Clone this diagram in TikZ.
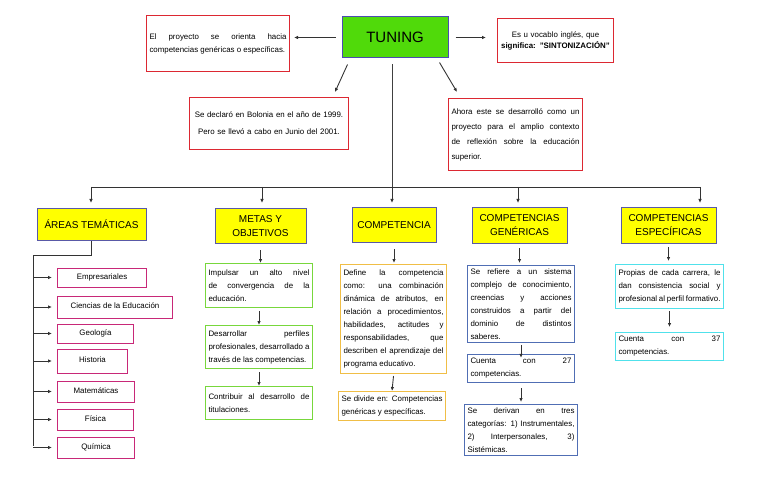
\documentclass[tikz,border=0pt]{standalone}
\usepackage{fontspec}
\setmainfont{Liberation Sans}
\usetikzlibrary{arrows.meta, positioning}
\definecolor{tungreen}{RGB}{80, 218, 10}
\definecolor{headyel}{RGB}{255, 255, 0}
\definecolor{boxred}{RGB}{220, 40, 50}
\definecolor{boxmag}{RGB}{200, 40, 120}
\definecolor{boxgreen}{RGB}{120, 215, 60}
\definecolor{boxgold}{RGB}{240, 190, 70}
\definecolor{boxblue}{RGB}{80, 110, 180}
\definecolor{boxcyan}{RGB}{80, 225, 235}
\begin{document}
\hyphenpenalty=10000 \exhyphenpenalty=10000 \tolerance=9999 \emergencystretch=20pt \hbadness=10000
\begin{tikzpicture}[x=1pt, y=-1pt,
  every node/.style={inner sep=3pt, anchor=north west, font=\fontsize{7.9}{13}\selectfont},
  txtbox/.style={draw, line width=1pt, fill=white, align=justify},
  head/.style={draw=gray!70!blue, line width=1pt, fill=headyel, align=center, font=\fontsize{10}{14}\selectfont},
  arr/.style={-{Latex[length=4pt, width=3.5pt]}, line width=0.9pt, black!80}]
  \useasboundingbox (0,0) rectangle (768,497);

  % Top level
  \node[draw=gray!60!blue, line width=1pt, fill=tungreen, minimum width=106pt, minimum height=41pt, anchor=center, font=\fontsize{15}{17}\selectfont] (tuning) at (395,37.5) {TUNING};
  \node[txtbox, draw=boxred, text width=137pt, minimum height=56pt] (orienta) at (146,15) {El proyecto se orienta hacia competencias genéricas o específicas.};
  \node[txtbox, draw=boxred, text width=110pt, minimum height=44pt, align=center] (ingles) at (497,18) {Es u vocablo inglés, que\\[-2pt]\textbf{significa: "SINTONIZACIÓN"}};
  \node[txtbox, draw=boxred, text width=153pt, minimum height=52pt, align=center, font=\fontsize{7.9}{17}\selectfont] (bolonia) at (189,97) {Se declaró en Bolonia en el año de 1999.\\Pero se llevó a cabo en Junio del 2001.};
  \node[txtbox, draw=boxred, text width=128pt, minimum height=72pt, font=\fontsize{7.9}{15}\selectfont] (ahora) at (448,98) {Ahora este se desarrolló como un proyecto para el amplio contexto de reflexión sobre la educación superior.};
  \draw[arr] ([xshift=-6pt]tuning.west) -- ([xshift=4pt]tuning.west -| orienta.east);
  \draw[arr] ([xshift=7pt]tuning.east) -- ([xshift=-11pt]tuning.east -| ingles.west);
  \draw[arr] ([xshift=6pt,yshift=-6pt]tuning.south west) -- ([xshift=-14pt,yshift=5pt]bolonia.north east);
  \draw[arr] ([xshift=-9pt,yshift=-4pt]tuning.south east) -- ([xshift=9pt,yshift=6pt]ahora.north west);

  % Headings
  \node[head, minimum width=109pt, minimum height=32pt, anchor=north] (areas) at (91.5,208) {ÁREAS TEMÁTICAS};
  \node[head, minimum width=91pt, minimum height=35pt, anchor=north] (metas) at (260.5,208) {METAS Y\\OBJETIVOS};
  \node[head, minimum width=84pt, minimum height=35pt, anchor=north] (comp) at (394,207) {COMPETENCIA};
  \node[head, minimum width=95pt, minimum height=36pt, anchor=north] (gen) at (519.5,207) {COMPETENCIAS\\GENÉRICAS};
  \node[head, minimum width=95pt, minimum height=36pt, anchor=north] (esp) at (668.5,207) {COMPETENCIAS\\ESPECÍFICAS};
  \coordinate (trunk) at (392,187);
  \draw[line width=1pt, black!75] ([yshift=-6pt]tuning.south -| trunk) -- (trunk);
  \draw[line width=0.9pt, black!80] (91,187) -- (700,187);
  \foreach \h/\x in {areas/91, metas/262, comp/392, gen/518, esp/700}
    \draw[arr] (\x,187) -- (\x,203);

  % Areas tematicas
  \draw[line width=0.9pt, black!80] (areas.south) -- ++(0,14) -| (33,446);
  \foreach \n/\t/\w/\y/\hh in {emp/Empresariales/89/268/19, cie/Ciencias de la Educación/115/296/22,
      geo/Geología/76/324/19, his/Historia/70/349/24, mat/Matemáticas/77/381/21,
      fis/Física/76/409/21, qui/Química/77/437/21} {
    \node[draw=boxmag, line width=1pt, fill=white, minimum width=\w pt, minimum height=\hh pt, align=center, anchor=north west, inner sep=1pt] (\n) at (57,\y) {\raisebox{3pt}{\t}};
    \draw[arr] (33,\y+\hh/2) -- ++(19,0);
  }

  % Metas y objetivos
  \node[txtbox, draw=boxgreen, text width=101pt, minimum height=44pt] (met1) at (205,263) {Impulsar un alto nivel de convergencia de la educación.};
  \node[txtbox, draw=boxgreen, text width=101pt, minimum height=43pt] (met2) at (205,325) {Desarrollar perfiles profesionales, desarrollado a través de las competencias.};
  \node[txtbox, draw=boxgreen, text width=101pt, minimum height=33pt] (met3) at (205,386) {Contribuir al desarrollo de titulaciones.};
  \draw[arr] ([yshift=-6pt]metas.south) -- ++(0,13);
  \draw[arr] ([yshift=-3pt]met1.south) -- (met2.north);
  \draw[arr] ([yshift=-3pt]met2.south) -- (met3.north);

  % Competencia
  \node[txtbox, draw=boxgold, text width=100pt, minimum height=109pt] (def) at (340,264) {Define la competencia como: una combinación dinámica de atributos, en relación a procedimientos, habilidades, actitudes y responsabilidades, que describen el aprendizaje del programa educativo.};
  \node[txtbox, draw=boxgold, text width=101pt, minimum height=29pt] (divide) at (338,391) {Se divide en: Competencias genéricas y específicas.};
  \draw[arr] ([yshift=-6pt]comp.south) -- ++(0,14);
  \draw[arr] ([yshift=-2pt]def.south) -- (divide.north);

  % Competencias genericas
  \node[txtbox, draw=boxblue, text width=101pt, minimum height=69pt] (gen1) at (467,265) {Se refiere a un sistema complejo de conocimiento, creencias y acciones construidos a partir del dominio de distintos saberes.};
  \node[txtbox, draw=boxblue, text width=101pt, minimum height=28pt] (gen2) at (467,354) {Cuenta con 27 competencias.};
  \node[txtbox, draw=boxblue, text width=107pt, minimum height=46pt] (gen3) at (464,404) {Se derivan en tres categorías: 1) Instrumentales, 2) Interpersonales, 3) Sistémicas.};
  \draw[arr] ([yshift=-4pt]gen.south) -- ++(0,15);
  \draw[arr] ([yshift=-2pt]gen1.south) -- ++(0,13);
  \draw[arr] ([yshift=-5pt]gen2.south) -- ++(0,14);

  % Competencias especificas
  \node[txtbox, draw=boxcyan, text width=102pt, minimum height=44pt] (esp1) at (615,264) {Propias de cada carrera, le dan consistencia social y profesional al perfil formativo.};
  \node[txtbox, draw=boxcyan, text width=102pt, minimum height=28pt] (esp2) at (615,332) {Cuenta con 37 competencias.};
  \draw[arr] ([yshift=-3pt]esp.south) -- ++(0,14);
  \draw[arr] ([yshift=-2pt]esp1.south) -- ++(0,16);
\end{tikzpicture}
\end{document}
